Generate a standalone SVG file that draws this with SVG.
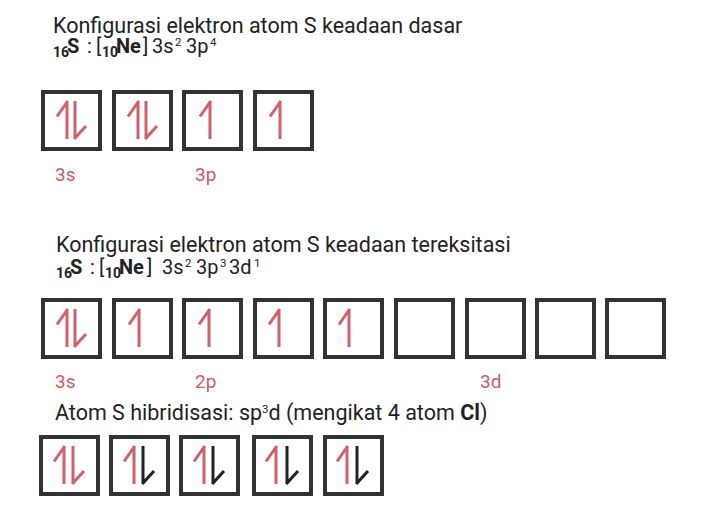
<svg xmlns="http://www.w3.org/2000/svg" width="703" height="512" viewBox="0 0 703 512">
<style>
text{font-family:Roboto,"Liberation Sans",sans-serif;fill:#222}
.t{font-size:21.5px}
.l2{font-size:20px}
.b{font-weight:bold}
.sub{font-size:14px;font-weight:bold}
.sup{font-size:11.5px}
.lbl{font-size:19px;fill:#cc5a66}
.box{fill:#fff;stroke:#333;stroke-width:4}
.r{fill:none;stroke:#d0606a;stroke-width:3;stroke-linecap:butt}
.k{fill:none;stroke:#222;stroke-width:3;stroke-linecap:butt}
</style>
<defs>
<path id="up" d="M0,0 V38 M0.8,0 L-10,15.5"/>
<path id="dn" d="M0,0 V38 M-0.8,38 L11,25"/>
</defs>
<rect width="703" height="512" fill="#fff"/>

<g id="title1">
<text class="t" x="53" y="33">Konfigurasi elektron atom S keadaan dasar</text>
<text class="l2"><tspan class="sub" x="53" y="57">16</tspan><tspan class="b" x="67" y="53">S</tspan><tspan x="87" y="53">:</tspan><tspan x="96" y="53">[</tspan><tspan class="sub" x="102" y="57">10</tspan><tspan class="b" x="116" y="53">Ne</tspan><tspan x="143" y="53">]</tspan><tspan x="152" y="53">3s</tspan><tspan class="sup" x="175" y="46">2</tspan><tspan x="186" y="53">3p</tspan><tspan class="sup" x="210" y="46">4</tspan></text>
</g>

<g id="ground-3s-1"><rect class="box" x="43" y="92" width="57" height="57"/><use href="#up" class="r" x="67" y="101"/><use href="#dn" class="r" x="75" y="101"/></g>
<g id="ground-3p-1"><rect class="box" x="114" y="92" width="57" height="57"/><use href="#up" class="r" x="138" y="101"/><use href="#dn" class="r" x="146" y="101"/></g>
<g id="ground-3p-2"><rect class="box" x="184" y="92" width="57" height="57"/><use href="#up" class="r" x="210" y="101"/></g>
<g id="ground-3p-3"><rect class="box" x="255" y="92" width="57" height="57"/><use href="#up" class="r" x="280" y="101"/></g>
<g id="ground-labels">
<text class="lbl" x="55" y="181">3s</text>
<text class="lbl" x="195" y="181">3p</text>
</g>

<g id="title2">
<text class="t" x="56" y="252">Konfigurasi elektron atom S keadaan tereksitasi</text>
<text class="l2"><tspan class="sub" x="56" y="278">16</tspan><tspan class="b" x="70" y="274">S</tspan><tspan x="90" y="274">:</tspan><tspan x="99" y="274">[</tspan><tspan class="sub" x="105" y="278">10</tspan><tspan class="b" x="119" y="274">Ne</tspan><tspan x="147" y="274">]</tspan><tspan x="162" y="274">3s</tspan><tspan class="sup" x="185" y="267">2</tspan><tspan x="196" y="274">3p</tspan><tspan class="sup" x="220" y="267">3</tspan><tspan x="229" y="274">3d</tspan><tspan class="sup" x="254" y="267">1</tspan></text>
</g>

<g id="exc-3s"><rect class="box" x="43" y="300" width="57" height="57"/><use href="#up" class="r" x="67" y="309"/><use href="#dn" class="r" x="75" y="309"/></g>
<g id="exc-3p-1"><rect class="box" x="114" y="300" width="57" height="57"/><use href="#up" class="r" x="139" y="309"/></g>
<g id="exc-3p-2"><rect class="box" x="184" y="300" width="57" height="57"/><use href="#up" class="r" x="209" y="309"/></g>
<g id="exc-3p-3"><rect class="box" x="255" y="300" width="57" height="57"/><use href="#up" class="r" x="279" y="309"/></g>
<g id="exc-3d-1"><rect class="box" x="325" y="300" width="57" height="57"/><use href="#up" class="r" x="349" y="309"/></g>
<g id="exc-3d-2"><rect class="box" x="396" y="300" width="57" height="57"/></g>
<g id="exc-3d-3"><rect class="box" x="467" y="300" width="57" height="57"/></g>
<g id="exc-3d-4"><rect class="box" x="537" y="300" width="57" height="57"/></g>
<g id="exc-3d-5"><rect class="box" x="607" y="300" width="57" height="57"/></g>
<g id="exc-labels">
<text class="lbl" x="55" y="388">3s</text>
<text class="lbl" x="195" y="388">2p</text>
<text class="lbl" x="480" y="388">3d</text>
</g>

<g id="title3">
<text class="t" x="55" y="420">Atom S hibridisasi: sp<tspan class="sup" dy="-7.5">3</tspan><tspan dy="7.5">d (mengikat 4 atom </tspan><tspan class="b">Cl</tspan>)</text>
</g>

<g id="hyb-1"><rect class="box" x="41" y="437" width="57" height="57"/><use href="#up" class="r" x="64" y="446"/><use href="#dn" class="r" x="73" y="446"/></g>
<g id="hyb-2"><rect class="box" x="111" y="437" width="57" height="57"/><use href="#up" class="r" x="134" y="446"/><use href="#dn" class="k" x="143" y="446"/></g>
<g id="hyb-3"><rect class="box" x="181" y="437" width="57" height="57"/><use href="#up" class="r" x="204" y="446"/><use href="#dn" class="k" x="213" y="446"/></g>
<g id="hyb-4"><rect class="box" x="254" y="437" width="57" height="57"/><use href="#up" class="r" x="276" y="446"/><use href="#dn" class="k" x="287" y="446"/></g>
<g id="hyb-5"><rect class="box" x="325" y="437" width="57" height="57"/><use href="#up" class="r" x="347" y="446"/><use href="#dn" class="k" x="357" y="446"/></g>
</svg>
